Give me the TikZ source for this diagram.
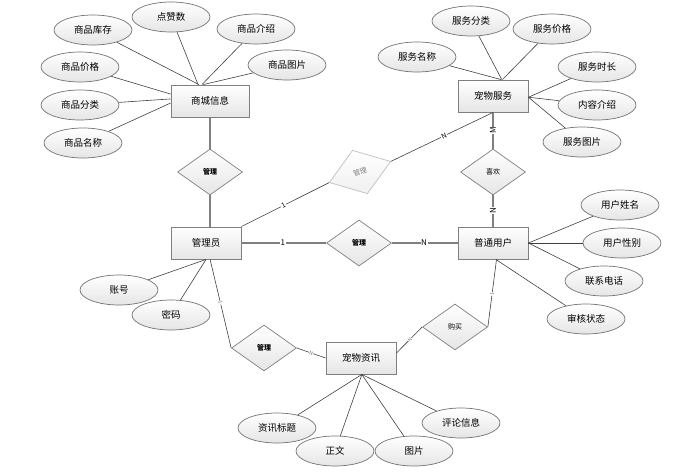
\documentclass[tikz,border=0pt]{standalone}
\usepackage{fontspec}
\setmainfont{Noto Sans CJK SC}
\usetikzlibrary{shapes.geometric}
\tikzset{
  ent/.style={rectangle,draw=black!50,line width=0.9pt,top color=white,bottom color=black!10,minimum width=70pt,minimum height=32pt,inner sep=0pt,font=\fontsize{9.5}{10}\selectfont},
  attr/.style={ellipse,draw=black!55,line width=0.7pt,top color=white,bottom color=black!10,minimum width=78pt,minimum height=30pt,inner sep=0pt,font=\fontsize{9.5}{10}\selectfont},
  rel/.style={diamond,draw=black!50,line width=0.7pt,top color=white,bottom color=black!10,minimum width=65pt,minimum height=46pt,inner sep=0pt,font=\fontsize{7}{8}\selectfont\bfseries},
  lnk/.style={draw=black!75,line width=0.6pt},
  glnk/.style={draw=black!50,line width=1.1pt},
  card/.style={fill=white,inner sep=0.6pt,font=\fontsize{8}{8}\selectfont},
  tick/.style={inner sep=0.3pt,fill=white,text=black!55,font=\fontsize{5}{5}\selectfont}
}
\begin{document}
\begin{tikzpicture}[x=1pt,y=-1pt]
\useasboundingbox (0,0) rectangle (689,474);
% entities
\node[ent,minimum width=78pt] (shop) at (210,101) {商城信息};
\node[ent] (admin) at (206,243) {管理员};
\node[ent] (pet) at (493,96) {宠物服务};
\node[ent] (user) at (493,243) {普通用户};
\node[ent] (news) at (361,358) {宠物资讯};
% relations
\node[rel] (m1) at (210,172) {管理};
\node[rel] (m2) at (359,243) {管理};
\node[rel] (m3) at (264,348) {管理};
\node[rel,font=\fontsize{7}{8}\selectfont] (like) at (493,172) {喜欢};
\node[rel,font=\fontsize{7}{8}\selectfont] (buy) at (455,327) {购买};
\node[rel,rotate=19,draw=black!25,top color=white,bottom color=black!6,text=black!50,font=\fontsize{7}{8}\selectfont] (rot) at (360,172) {管理};
% attributes
\node[attr] (kc) at (93,30) {商品库存};
\node[attr] (dz) at (171,17) {点赞数};
\node[attr] (js) at (256,29) {商品介绍};
\node[attr] (tp) at (287,65) {商品图片};
\node[attr] (jg) at (80,67) {商品价格};
\node[attr] (fl) at (80,105) {商品分类};
\node[attr] (mc) at (83,143) {商品名称};
\node[attr] (zh) at (119,290) {账号};
\node[attr] (mm) at (171,315) {密码};
\node[attr] (ffl) at (471,21) {服务分类};
\node[attr] (fjg) at (552,29) {服务价格};
\node[attr] (fmc) at (417,57) {服务名称};
\node[attr] (fsc) at (597,67) {服务时长};
\node[attr] (nr) at (597,105) {内容介绍};
\node[attr] (ftp) at (582,142) {服务图片};
\node[attr] (xm) at (620,205) {用户姓名};
\node[attr] (xb) at (622,243) {用户性别};
\node[attr] (dh) at (604,281) {联系电话};
\node[attr] (sh) at (586,319) {审核状态};
\node[attr] (bt) at (277,428) {资讯标题};
\node[attr] (zw) at (335,451) {正文};
\node[attr] (pt) at (414,451) {图片};
\node[attr] (pl) at (461,423) {评论信息};
% attribute links
\draw[lnk] (kc) -- (shop.124);
\draw[lnk] (dz) -- (shop.126);
\draw[lnk] (js) -- (shop.116);
\draw[lnk] (tp) -- (shop.112);
\draw[lnk] (jg) -- (shop.170);
\draw[lnk] (fl) -- (shop.177);
\draw[lnk] (mc) -- (shop.183);
\draw[lnk] (zh) -- (admin.south);
\draw[lnk] (mm) -- (admin.south);
\draw[lnk] (ffl) -- (pet.62);
\draw[lnk] (fjg) -- (pet.60);
\draw[lnk] (fmc) -- (pet.64);
\draw[lnk] (fsc) -- (pet.-2);
\draw[lnk] (nr) -- (pet.-2);
\draw[lnk] (ftp) -- (pet.-2);
\draw[lnk] (xm) -- (user.east);
\draw[lnk] (xb) -- (user.east);
\draw[lnk] (dh) -- (user.east);
\draw[lnk] (sh) -- (user.-80);
\draw[lnk] (bt) -- (news.-87);
\draw[lnk] (zw) -- (news.-87);
\draw[lnk] (pt) -- (news.-87);
\draw[lnk] (pl) -- (news.-87);
% relation links
\draw[glnk] (shop.south) -- (m1.north);
\draw[glnk] (m1.south) -- (m1.south |- admin.north);
\draw[glnk] (admin.east) -- node[card,pos=0.49]{1} (m2.west);
\draw[glnk] (m2.east) -- node[card,pos=0.49]{N} (user.west);
\draw[glnk] (pet.south) -- node[card,pos=0.5,rotate=90]{M} (like.north);
\draw[glnk] (like.south) -- node[card,pos=0.5,rotate=90]{N} (user.north);
\draw[lnk] (admin.north east) -- node[card,pos=0.48,sloped,font=\fontsize{7}{7}\selectfont]{1} (rot.west);
\draw[lnk] (rot.east) -- node[card,pos=0.52,sloped,font=\fontsize{7}{7}\selectfont]{N} (pet.south);
\draw[lnk] (admin.-76) -- node[tick,pos=0.49,sloped]{1} (m3.west);
\draw[lnk] (m3.east) -- node[tick,pos=0.5,sloped]{N} (news.west);
\draw[lnk] (buy.west) -- node[tick,pos=0.48,sloped]{N} (news.8);
\draw[lnk] (user.-78) -- node[tick,pos=0.51,sloped]{1} (buy.east);
\end{tikzpicture}
\end{document}
